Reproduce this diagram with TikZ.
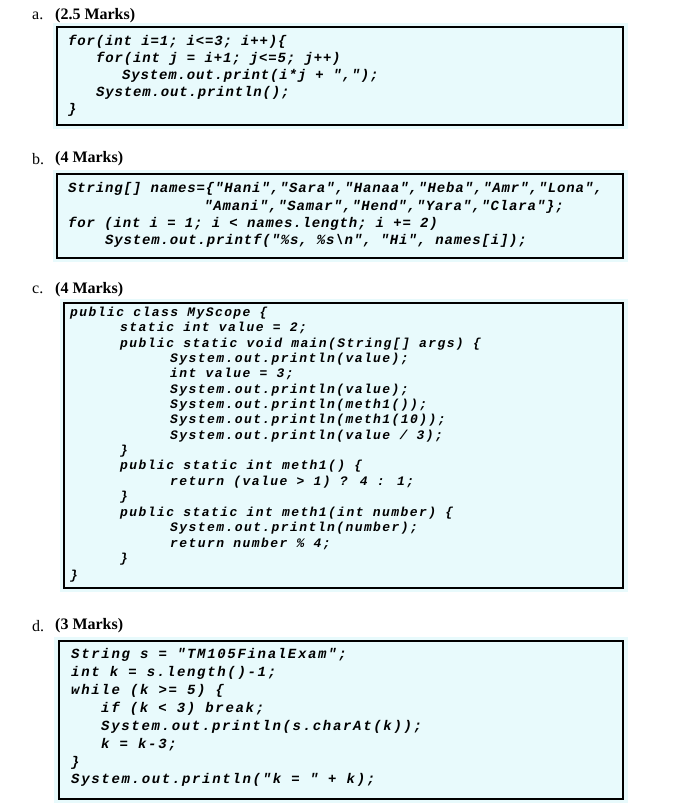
\documentclass[tikz,border=0pt]{standalone}
\usepackage{fontspec}
\setmainfont{Liberation Serif}
\newfontfamily\codeA[LetterSpace=6]{Liberation Mono}
\newfontfamily\codeC[LetterSpace=11]{Liberation Mono}
\newfontfamily\codeD[LetterSpace=12]{Liberation Mono}
\definecolor{boxfill}{RGB}{232,250,252}
\tikzset{
 cA/.style={anchor=west,inner sep=0pt,font=\codeA\fontsize{14}{14}\bfseries\itshape\selectfont},
 cC/.style={anchor=west,inner sep=0pt,font=\codeC\fontsize{13}{13}\bfseries\itshape\selectfont},
 cD/.style={anchor=west,inner sep=0pt,font=\codeD\fontsize{14}{14}\bfseries\itshape\selectfont},
 lab/.style={anchor=west,inner sep=0pt,font=\fontsize{16}{16}\selectfont},
 marks/.style={anchor=west,inner sep=0pt,font=\fontsize{16}{16}\bfseries\selectfont},
 frame/.style={draw=black,line width=1.2pt}
}
\begin{document}
\begin{tikzpicture}[x=1pt,y=-1pt]
\useasboundingbox[fill=white] (0,0) rectangle (687,805);
% backgrounds and frames
\fill[boxfill] (53,23) rectangle (628,129);
\draw[frame] (57,27) rectangle (623,125);
\fill[boxfill] (53,170) rectangle (628,262);
\draw[frame] (57,174) rectangle (623,258);
\fill[boxfill] (60,299) rectangle (628,592);
\draw[frame] (64,303) rectangle (623,588);
\fill[boxfill] (54,637) rectangle (628,803);
\draw[frame] (59,641) rectangle (623,799);
% labels
\node[lab] (la) at (32,16) {a.}; \node[marks] (ma) at (55,16) {(2.5 Marks)};
\node[lab] (lb) at (32,159) {b.}; \node[marks] (mb) at (55,159) {(4 Marks)};
\node[lab] (lc) at (32,290) {c.}; \node[marks] (mc) at (55,290) {(4 Marks)};
\node[lab] (ld) at (32,626) {d.}; \node[marks] (md) at (55,626) {(3 Marks)};
% a
\node[cA] (a1) at (68,42) {for(int i=1; i<=3; i++)\{};
\node[cA] (a2) at (96,59) {for(int j = i+1; j<=5; j++)};
\node[cA] (a3) at (122,76) {System.out.print(i*j + ",");};
\node[cA] (a4) at (96,93) {System.out.println();};
\node[cA] (a5) at (68,110) {\}};
% b
\node[cA] (b1) at (68,189) {String[] names=\{"Hani","Sara","Hanaa","Heba","Amr","Lona",};
\node[cA] (b2) at (204,207) {"Amani","Samar","Hend","Yara","Clara"\};};
\node[cA] (b3) at (68,224) {for (int i = 1; i < names.length; i += 2)};
\node[cA] (b4) at (105,241) {System.out.printf("\%s, \%s\textbackslash n", "Hi", names[i]);};
% c
\node[cC] (c1) at (70,313) {public class MyScope \{};
\node[cC] (c2) at (120,328) {static int value = 2;};
\node[cC] (c3) at (120,344) {public static void main(String[] args) \{};
\node[cC] (c4) at (170,359) {System.out.println(value);};
\node[cC] (c5) at (170,374) {int value = 3;};
\node[cC] (c6) at (170,390) {System.out.println(value);};
\node[cC] (c7) at (170,405) {System.out.println(meth1());};
\node[cC] (c8) at (170,420) {System.out.println(meth1(10));};
\node[cC] (c9) at (170,436) {System.out.println(value / 3);};
\node[cC] (c10) at (120,451) {\}};
\node[cC] (c11) at (120,466) {public static int meth1() \{};
\node[cC] (c12) at (170,482) {return (value > 1) ? 4 : 1;};
\node[cC] (c13) at (120,497) {\}};
\node[cC] (c14) at (120,513) {public static int meth1(int number) \{};
\node[cC] (c15) at (170,528) {System.out.println(number);};
\node[cC] (c16) at (170,544) {return number \% 4;};
\node[cC] (c17) at (120,559) {\}};
\node[cC] (c18) at (70,576) {\}};
% d
\node[cD] (d1) at (71,655) {String s = "TM105FinalExam";};
\node[cD] (d2) at (71,673) {int k = s.length()-1;};
\node[cD] (d3) at (71,691) {while (k >= 5) \{};
\node[cD] (d4) at (101,709) {if (k < 3) break;};
\node[cD] (d5) at (101,727) {System.out.println(s.charAt(k));};
\node[cD] (d6) at (101,745) {k = k-3;};
\node[cD] (d7) at (71,763) {\}};
\node[cD] (d8) at (71,780) {System.out.println("k = " + k);};
\end{tikzpicture}
\end{document}
